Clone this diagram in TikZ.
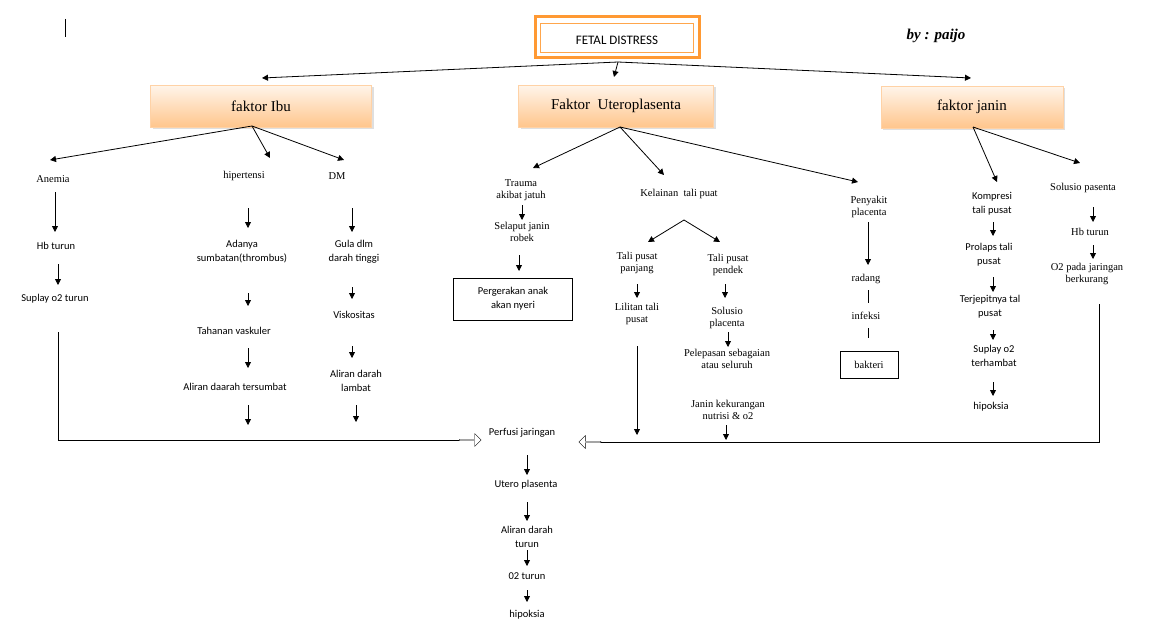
\documentclass[tikz,border=0pt]{standalone}
\usepackage{fontspec}
\setmainfont{Liberation Serif}
\newfontfamily\sansf{Carlito}
\usetikzlibrary{arrows.meta,shadows,shapes.arrows}
\tikzset{
  tx/.style={align=center, inner sep=1pt, font=\fontsize{10.5}{12.5}\selectfont},
  sx/.style={align=center, inner sep=1pt, font=\sansf\fontsize{10.5}{14}\selectfont},
  head/.style={draw=orange!35, top color=orange!8, bottom color=orange!45,
    drop shadow={shadow xshift=2pt, shadow yshift=-2pt, fill=gray!50},
    minimum height=42pt, font=\rmfamily\fontsize{15}{18}\selectfont},
  arr/.style={-{Triangle[length=6pt,width=6pt]}, thick},
  ln/.style={semithick},
  blk/.style={single arrow, draw, thin, fill=white, minimum height=22pt,
    minimum width=13pt, single arrow head extend=1.5pt, inner sep=0pt}
}
\begin{document}
\begin{tikzpicture}[x=1pt,y=-1pt]
\useasboundingbox (0,0) rectangle (1158,634);

% title
\draw[line width=3pt, draw=orange!80] (535,17) rectangle (699,58);
\draw[draw=orange!70] (540,23) rectangle (693,52);
\node[sx, font=\sansf\fontsize{13}{15}\selectfont] (title) at (617,40) {FETAL DISTRESS};
\node[font=\bfseries\itshape\fontsize{15}{17}\selectfont] (by) at (936,36) {by : paijo};
\draw[thick] (65,19) -- (65,37);

% headers
\node[head, minimum width=221pt] (ibu) at (261,106) {faktor Ibu};
\node[head, minimum width=195pt] (utero) at (616,106) {Faktor\ \ Uteroplasenta};
\node[head, minimum width=182pt] (janin) at (972,107) {faktor janin};
\coordinate (t0) at (618,62);
\draw[arr] (t0) -- (262,78);
\draw[arr] (t0) -- (971,78);
\draw[arr] (t0) -- (614,77);

% faktor Ibu
\node[tx] (anemia) at (53,179) {Anemia};
\node[sx] (hb1) at (56,246) {Hb turun};
\node[sx] (sup1) at (55,299) {Suplay o2 turun};
\node[tx] (hiper) at (244,176) {hipertensi};
\node[sx] (adanya) at (242,252) {Adanya\\sumbatan(thrombus)};
\node[sx] (tahanan) at (234,331) {Tahanan vaskuler};
\node[sx] (aliran1) at (235,387) {Aliran daarah tersumbat};
\node[tx] (dm) at (337,176) {DM};
\node[sx] (gula) at (354,252) {Gula dlm\\darah tinggi};
\node[sx] (visk) at (354,315) {Viskositas};
\node[sx] (aliran2) at (356,381) {Aliran darah\\lambat};
\coordinate (i0) at (252,126);
\draw[arr] (i0) -- (50,160);
\draw[arr] (i0) -- (270,158);
\draw[arr] (i0) -- (344,160);
\draw[arr] (55,192) -- (55,232);
\draw[arr] (58,264) -- (58,285);
\draw[arr] (248,208) -- (248,228);
\draw[arr] (248,293) -- (248,306);
\draw[arr] (248,348) -- (248,368);
\draw[arr] (248,405) -- (248,425);
\draw[arr] (352,208) -- (352,232);
\draw[arr] (352,287) -- (352,299);
\draw[arr] (352,346) -- (352,358);
\draw[arr] (356,405) -- (356,422);

% faktor Uteroplasenta
\node[tx] (trauma) at (521,190) {Trauma\\akibat jatuh};
\node[tx] (selaput) at (522,232) {Selaput janin\\robek};
\node[sx, draw, minimum width=119pt, minimum height=42pt] (gerak) at (513,299) {Pergerakan anak\\akan nyeri};
\node[tx] (kelainan) at (679,194) {Kelainan\ \ tali puat};
\node[tx] (panjang) at (637,263) {Tali pusat\\panjang};
\node[tx] (lilitan) at (637,314) {Lilitan tali\\pusat};
\node[tx] (pendek) at (728,265) {Tali pusat\\pendek};
\node[tx] (solusio1) at (727,318) {Solusio\\placenta};
\node[tx] (lepas) at (727,359) {Pelepasan sebagaian\\atau seluruh};
\node[tx] (kurang) at (728,410) {Janin kekurangan\\nutrisi \& o2};
\node[tx] (penyakit) at (869,207) {Penyakit\\placenta};
\node[tx] (radang) at (866,279) {radang};
\node[tx] (infeksi) at (866,316) {infeksi};
\node[tx, draw, minimum width=58pt, minimum height=27pt] (bakteri) at (869,365) {bakteri};
\coordinate (u0) at (620,127);
\draw[arr] (u0) -- (533,168);
\draw[arr] (u0) -- (664,175);
\draw[arr] (u0) -- (858,182);
\draw[arr] (522,205) -- (522,220);
\draw[arr] (519,255) -- (519,271);
\coordinate (fork) at (684,220);
\draw[arr] (fork) -- (648,242);
\draw[arr] (fork) -- (720,242);
\draw[arr] (637,284) -- (637,298);
\draw[arr] (725,284) -- (725,298);
\draw[arr] (728,332) -- (728,347);
\draw[arr] (726,425) -- (726,440);
\draw[arr] (637,346) -- (637,435);
\draw[arr] (868,222) -- (868,265);
\draw[ln] (868,290) -- (868,303);
\draw[ln] (868,328) -- (868,338);

% faktor janin
\node[sx] (kompresi) at (992,204) {Kompresi\\tali pusat};
\node[sx] (prolaps) at (989,255) {Prolaps tali\\pusat};
\node[sx] (jepit) at (990,307) {Terjepitnya tal\\pusat};
\node[sx] (suplay2) at (994,356) {Suplay o2\\terhambat};
\node[sx] (hipok1) at (991,407) {hipoksia};
\node[tx] (solusio2) at (1083,188) {Solusio pasenta};
\node[tx] (hb2) at (1090,232) {Hb turun};
\node[tx] (o2) at (1087,274) {O2 pada jaringan\\berkurang};
\coordinate (j0) at (973,127);
\draw[arr] (j0) -- (997,182);
\draw[arr] (j0) -- (1080,163);
\draw[arr] (993,222) -- (993,236);
\draw[arr] (993,277) -- (993,292);
\draw[arr] (993,330) -- (993,340);
\draw[arr] (993,382) -- (993,396);
\draw[arr] (1093,207) -- (1093,222);
\draw[arr] (1093,245) -- (1093,259);

% perfusi
\node[sx] (perfusi) at (522,433) {Perfusi jaringan};
\node[sx] (uteropl) at (526,485) {Utero plasenta};
\node[sx] (aliran3) at (527,537) {Aliran darah\\turun};
\node[sx] (o2turun) at (527,576) {02 turun};
\node[sx] (hipok2) at (527,615) {hipoksia};
\draw[ln] (58,332) |- (459,440);
\node[blk, anchor=tail] (blkL) at (459,440) {};
\draw[ln] (1099,304) |- (601,442);
\node[blk, shape border rotate=180, anchor=tail] (blkR) at (601,442) {};
\draw[arr] (527,455) -- (527,475);
\draw[arr] (527,502) -- (527,521);
\draw[arr] (527,550) -- (527,566);
\draw[arr] (527,590) -- (527,602);
\end{tikzpicture}
\end{document}
